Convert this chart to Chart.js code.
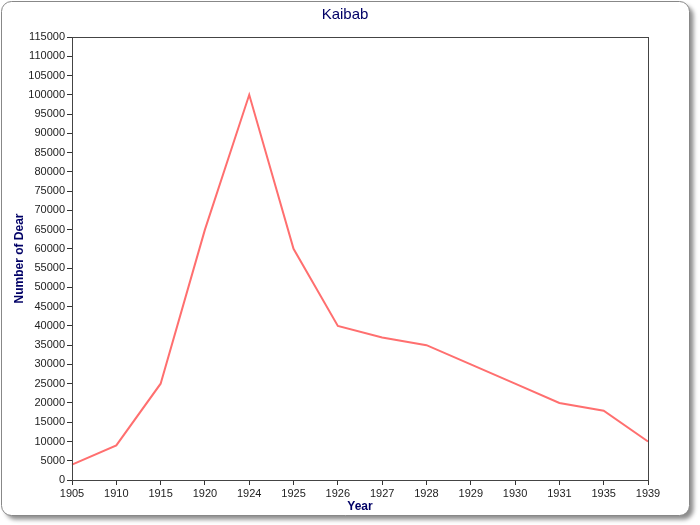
<!DOCTYPE html>
<html>
<head>
<meta charset="utf-8">
<script src="https://cdn.jsdelivr.net/npm/chart.js@4/dist/chart.umd.min.js"></script>
<style>
html,body{margin:0;padding:0;background:#fff;}
#wrap{width:700px;height:525px;}
</style>
</head>
<body>
<div id="wrap"><canvas id="c" width="700" height="525"></canvas></div>
<script>
const years = ['1905','1910','1915','1920','1924','1925','1926','1927','1928','1929','1930','1931','1935','1939'];
const deer = [4000, 9000, 25000, 65000, 100000, 60000, 40000, 37000, 35000, 30000, 25000, 20000, 18000, 10000];
const chartTitle = 'Kaibab';
const yTitle = 'Number of Dear';
const xTitle = 'Year';
const yMax = 115000;
const yStep = 5000;

const FONT = 'Liberation Sans, Arial, sans-serif';

const framePlugin = {
  id: 'frame',
  beforeDraw(chart) {
    const ctx = chart.ctx;
    ctx.save();
    ctx.fillStyle = '#fff';
    ctx.fillRect(0, 0, chart.width, chart.height);
    const x = 1.5, y = 1.5, w = 688, h = 514, r = 10;
    ctx.shadowColor = 'rgba(0,0,0,0.45)';
    ctx.shadowOffsetX = 4;
    ctx.shadowOffsetY = 4;
    ctx.shadowBlur = 4;
    ctx.beginPath();
    ctx.roundRect(x, y, w, h, r);
    ctx.fillStyle = '#fff';
    ctx.fill();
    ctx.shadowColor = 'transparent';
    ctx.lineWidth = 1;
    ctx.strokeStyle = '#888';
    ctx.stroke();
    ctx.restore();
  },
  afterDatasetsDraw(chart) {
    const a = chart.chartArea;
    const ctx = chart.ctx;
    ctx.save();
    ctx.strokeStyle = '#444';
    ctx.lineWidth = 1;
    ctx.strokeRect(Math.round(a.left) + 0.5, Math.round(a.top) + 0.5, Math.round(a.right - a.left), Math.round(a.bottom - a.top));
    ctx.restore();
  }
};

new Chart(document.getElementById('c'), {
  type: 'line',
  data: {
    labels: years,
    datasets: [{
      data: deer,
      borderColor: '#ff6f6f',
      borderWidth: 2,
      pointRadius: 0,
      tension: 0,
      fill: false,
      yAxisID: 'y'
    }]
  },
  options: {
    responsive: false,
    animation: false,
    devicePixelRatio: 1,
    layout: { padding: { left: 0, right: 10, top: 4, bottom: 0 } },
    plugins: {
      legend: { display: false },
      tooltip: { enabled: false },
      title: {
        display: true,
        text: chartTitle,
        color: '#000066',
        font: { family: FONT, size: 15, weight: 'normal' },
        padding: { top: 2, bottom: 13 }
      }
    },
    scales: {
      x: {
        type: 'category',
        offset: false,
        grid: { display: true, drawOnChartArea: false, drawTicks: true, tickLength: 5, color: '#333' },
        border: { display: true, color: '#444' },
        ticks: {
          autoSkip: false, maxRotation: 0, color: '#222', padding: 2,
          font: { family: FONT, size: 11 }
        },
        title: {
          display: true, text: xTitle, color: '#000066',
          font: { family: FONT, size: 12, weight: 'bold' },
          padding: { top: 0, bottom: 11 }
        },
        afterFit(scale) { scale.height = 45; }
      },
      y: {
        min: 0, max: yMax,
        grid: { display: true, drawOnChartArea: false, drawTicks: true, tickLength: 5, color: '#333' },
        border: { display: true, color: '#444' },
        ticks: {
          stepSize: yStep, autoSkip: false, color: '#222', padding: 2,
          font: { family: FONT, size: 11 },
          callback: (v) => String(v)
        },
        title: {
          display: true, text: yTitle, color: '#000066',
          font: { family: FONT, size: 12, weight: 'bold' },
          padding: { top: 12, bottom: 0 }
        },
        afterFit(scale) { scale.width = 72; }
      },
      yRight: {
        position: 'right',
        min: 0, max: yMax,
        display: true,
        grid: { display: false, drawTicks: false },
        border: { display: false },
        ticks: { display: false },
        afterFit(scale) { scale.width = 42; }
      }
    }
  },
  plugins: [framePlugin]
});
</script>
</body>
</html>
